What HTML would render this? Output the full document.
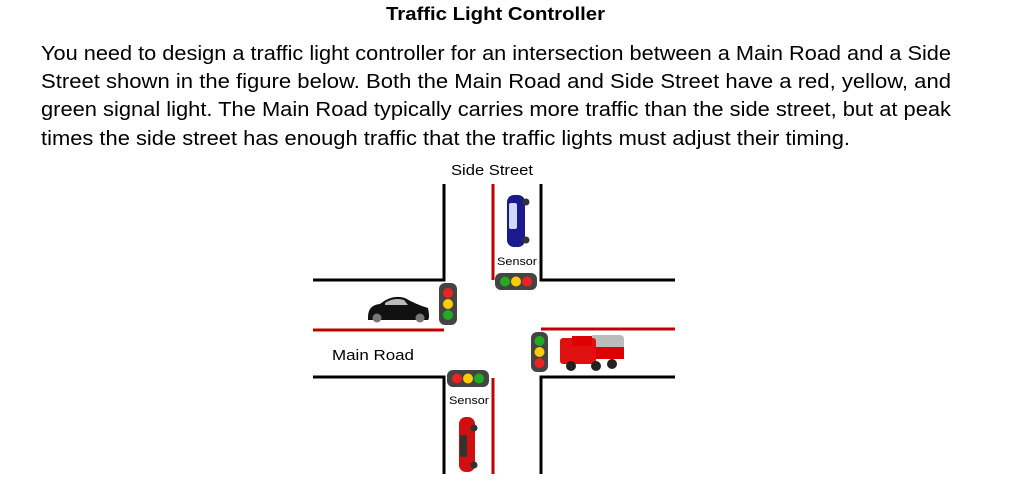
<!DOCTYPE html>
<html><head><meta charset="utf-8"><style>
body{margin:0;background:#fff;width:1024px;height:493px;overflow:hidden}
svg text{font-family:"Liberation Sans",sans-serif;fill:#000}
</style></head><body>
<svg width="1024" height="493" viewBox="0 0 1024 493" xmlns="http://www.w3.org/2000/svg">
<text x="386" y="20" font-size="18" font-weight="bold" textLength="219" lengthAdjust="spacingAndGlyphs">Traffic Light Controller</text>
<g font-size="20">
<text x="41" y="60" textLength="910" lengthAdjust="spacingAndGlyphs">You need to design a traffic light controller for an intersection between a Main Road and a Side</text>
<text x="41" y="88" textLength="910" lengthAdjust="spacingAndGlyphs">Street shown in the figure below. Both the Main Road and Side Street have a red, yellow, and</text>
<text x="41" y="116" textLength="910" lengthAdjust="spacingAndGlyphs">green signal light. The Main Road typically carries more traffic than the side street, but at peak</text>
<text x="41" y="145" textLength="809" lengthAdjust="spacingAndGlyphs">times the side street has enough traffic that the traffic lights must adjust their timing.</text>
</g>
<text x="451" y="175" font-size="15" textLength="82" lengthAdjust="spacingAndGlyphs">Side Street</text>
<text x="332" y="360" font-size="15" textLength="82" lengthAdjust="spacingAndGlyphs">Main Road</text>
<text x="497" y="265" font-size="11" textLength="40" lengthAdjust="spacingAndGlyphs">Sensor</text>
<text x="449" y="404" font-size="11" textLength="40" lengthAdjust="spacingAndGlyphs">Sensor</text>
<g stroke="#000" stroke-width="3" fill="none">
<polyline points="444,184 444,280 313,280"/>
<polyline points="541,184 541,280 675,280"/>
<polyline points="313,377 444,377 444,474"/>
<polyline points="675,377 541,377 541,474"/>
</g>
<g stroke="#c00000" stroke-width="3">
<line x1="493" y1="184" x2="493" y2="280"/>
<line x1="313" y1="330" x2="444" y2="330"/>
<line x1="541" y1="329" x2="675" y2="329"/>
<line x1="493" y1="378" x2="493" y2="474"/>
</g>
<!-- traffic lights -->
<rect x="495" y="273" width="42" height="17" rx="6" fill="#444"/>
<circle cx="505" cy="281.5" r="5" fill="#2a2"/><circle cx="516" cy="281.5" r="5" fill="#fc0"/><circle cx="527" cy="281.5" r="5" fill="#e22"/>
<rect x="439" y="283" width="18" height="42" rx="6" fill="#444"/>
<circle cx="448" cy="293" r="5" fill="#e22"/><circle cx="448" cy="304" r="5" fill="#fc0"/><circle cx="448" cy="315" r="5" fill="#2a2"/>
<rect x="531" y="332" width="17" height="40" rx="6" fill="#444"/>
<circle cx="539.5" cy="341" r="5" fill="#2a2"/><circle cx="539.5" cy="352" r="5" fill="#fc0"/><circle cx="539.5" cy="363" r="5" fill="#e22"/>
<rect x="447" y="370" width="42" height="17" rx="6" fill="#444"/>
<circle cx="457" cy="378.5" r="5" fill="#e22"/><circle cx="468" cy="378.5" r="5" fill="#fc0"/><circle cx="479" cy="378.5" r="5" fill="#2a2"/>
<!-- blue car -->
<rect x="507" y="195" width="18" height="52" rx="7" fill="#1a1a8c"/>
<rect x="509" y="203" width="8" height="26" rx="2" fill="#cfd8ff"/>
<circle cx="526" cy="202" r="3.5" fill="#333"/><circle cx="526" cy="240" r="3.5" fill="#333"/>
<!-- black car -->
<path d="M368,317 Q368,305 380,304 Q392,294 405,298 Q415,304 428,308 Q430,318 428,320 L368,320 Z" fill="#111"/>
<path d="M385,303 Q394,297 404,300 L408,305 L385,305 Z" fill="#bbb"/>
<circle cx="377" cy="318" r="4.5" fill="#777"/><circle cx="420" cy="318" r="4.5" fill="#777"/>
<!-- truck -->
<rect x="590" y="335" width="34" height="18" rx="4" fill="#bbb"/>
<rect x="560" y="338" width="36" height="26" rx="3" fill="#e01010"/>
<rect x="572" y="336" width="20" height="10" fill="#d00"/>
<rect x="596" y="347" width="28" height="12" fill="#d00"/>
<circle cx="571" cy="366" r="5" fill="#222"/><circle cx="596" cy="366" r="5" fill="#222"/><circle cx="612" cy="364" r="5" fill="#222"/>
<!-- red car -->
<rect x="459" y="417" width="16" height="55" rx="7" fill="#d01010"/>
<rect x="460" y="435" width="7" height="22" rx="2" fill="#333"/>
<circle cx="474" cy="428" r="3.5" fill="#333"/><circle cx="474" cy="465" r="3.5" fill="#333"/>
</svg>
</body></html>
